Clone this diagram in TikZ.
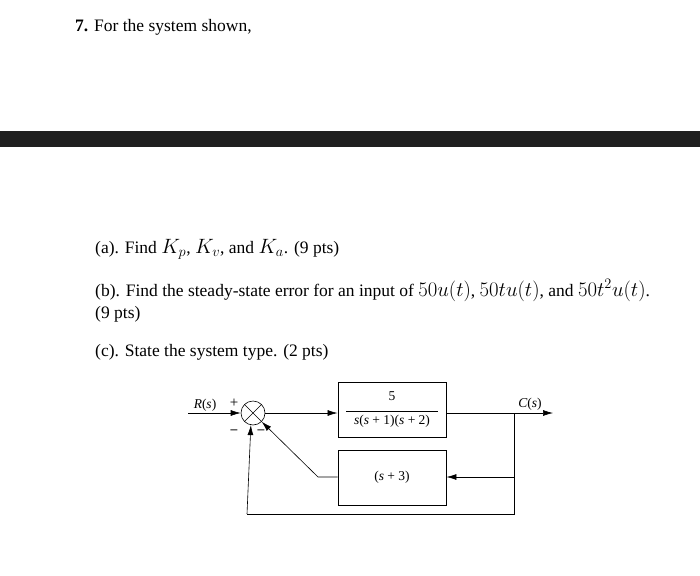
\documentclass[tikz,border=0pt]{standalone}
\usepackage{fontspec}
\setmainfont{Liberation Serif}
\usetikzlibrary{arrows.meta}
\newcommand{\mymath}[1]{\scalebox{1.2}{$#1$}}
\begin{document}
\begin{tikzpicture}[x=1pt,y=-1pt,
  txt/.style={anchor=base west,inner sep=0pt,font=\fontsize{17.5}{21}\selectfont},
  blk/.style={draw,line width=0.9pt,minimum width=108pt,minimum height=55pt,inner sep=0pt},
  lbl/.style={inner sep=0pt,font=\fontsize{13.5}{15}\selectfont},
  ln/.style={line width=0.6pt},
  arr/.style={ln,-{Latex[length=10pt,width=6pt]}}]
\useasboundingbox (0,0) rectangle (700,575);
\fill[black!88] (0,131) rectangle (700,147);
\node[txt] (t7) at (75,32) {\textbf{7.} For the system shown,};
\node[txt] (ta) at (95,253) {(a). Find \mymath{K_p}, \mymath{K_v}, and \mymath{K_a}. (9 pts)};
\node[txt] (tb) at (95,296) {(b). Find the steady-state error for an input of \mymath{50u(t)}, \mymath{50tu(t)}, and \mymath{50t^2u(t)}.};
\node[txt] (tb2) at (95,318) {(9 pts)};
\node[txt] (tc) at (95,356) {(c). State the system type. (2 pts)};
% diagram
\node[draw,circle,ln,minimum size=24pt,inner sep=0pt] (sum) at (253,413) {};
\draw[ln] (sum.45) -- (sum.225) (sum.135) -- (sum.315);
\node[blk,font=\fontsize{13.5}{15}\selectfont] (g) at (392,409.5) {\begin{tabular}{c}5\\[-2pt]\rule[2pt]{92pt}{0.6pt}\\[-4pt]\textit{s}(\textit{s} + 1)(\textit{s} + 2)\end{tabular}};
\node[blk,font=\fontsize{13.5}{15}\selectfont] (h) at (392,477.5) {(\textit{s} + 3)};
\coordinate (rin) at (188,413);
\coordinate (br) at (514,413);
\coordinate (out) at (553,413);
\coordinate (brh) at (514,477);
\coordinate (brb) at (514,514);
\coordinate (lb) at (247,514);
\coordinate (hk) at (318,477);
\draw[arr] (rin) -- (sum.west);
\draw[arr] (sum.east) -- (g.west|-sum.east);
\draw[ln] (g.east|-br) -- (br);
\draw[arr] (br) -- (out);
\draw[arr] (br) -- (brh) -- (h.east|-brh);
\draw[ln] (brh) -- (brb) -- (lb);
\draw[arr] (lb) -- (sum.260);
\draw[arr] (h.west|-hk) -- (hk) -- (sum.-45);
\node[lbl] (R) at (205,405) {\textit{R}(\textit{s})};
\node[lbl] (C) at (530,404) {\textit{C}(\textit{s})};
\node[lbl,font=\fontsize{15}{17}\selectfont] (p) at (234,403) {+};
\node[lbl] (m1) at (234,432) {\textbf{–}};
\node[lbl] (m2) at (261,432) {\textbf{–}};
\end{tikzpicture}
\end{document}
